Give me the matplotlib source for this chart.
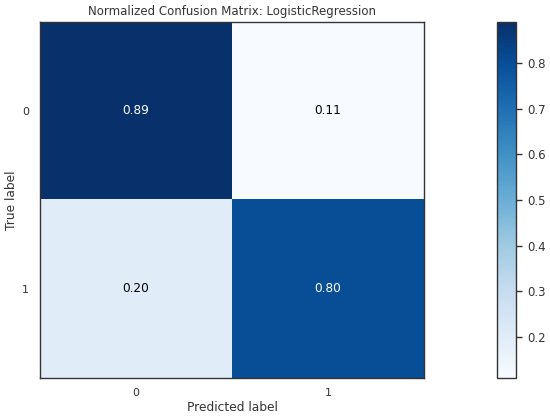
import matplotlib
matplotlib.use("Agg")
import matplotlib.pyplot as plt
import numpy as np

classes = ["0", "1"]
row0 = [0.89, 0.11]
row1 = [0.20, 0.80]
cbar_ticks = [0.2, 0.3, 0.4, 0.5, 0.6, 0.7, 0.8]
title = "Normalized Confusion Matrix: LogisticRegression"

cm = np.array([row0, row1])

plt.rcParams['font.family'] = ['DejaVu Sans']
txtc = '#333333'
fig = plt.figure(figsize=(5.5, 4.19), dpi=100)
ax = fig.add_axes([40/550, 1-378/419, 384/550, 356/419])
cax = fig.add_axes([497/550, 1-378/419, 19/550, 356/419])

im = ax.imshow(cm, cmap='Blues', aspect='auto', interpolation='nearest',
               vmin=cm.min(), vmax=cm.max())
ax.set_title(title, fontsize=8.5, color=txtc, pad=5)
ax.set_xticks(range(len(classes)))
ax.set_yticks(range(len(classes)))
ax.set_xticklabels(classes)
ax.set_yticklabels(classes)
ax.tick_params(axis='x', length=0, labelsize=8, colors=txtc, pad=7)
ax.tick_params(axis='y', length=0, labelsize=8, colors=txtc, pad=8)
ax.set_xlabel("Predicted label", fontsize=8.8, color=txtc, labelpad=2)
ax.set_ylabel("True label", fontsize=8.8, color=txtc, labelpad=3)
for s in ax.spines.values():
    s.set_color('#333333')
    s.set_linewidth(1.0)

thresh = cm.max() / 2.
for i in range(cm.shape[0]):
    for j in range(cm.shape[1]):
        ax.text(j, i, format(cm[i, j], '.2f'), ha='center', va='center',
                fontsize=8.7, color='white' if cm[i, j] > thresh else 'black')

cb = fig.colorbar(im, cax=cax, ticks=cbar_ticks)
cb.ax.tick_params(labelsize=8.5, colors=txtc, length=4, width=1, pad=4)
cb.ax.set_yticklabels([f"{t:.1f}" for t in cbar_ticks])
cb.outline.set_edgecolor('#333333')
cb.outline.set_linewidth(1.0)

fig.savefig("out.png", dpi=100)
